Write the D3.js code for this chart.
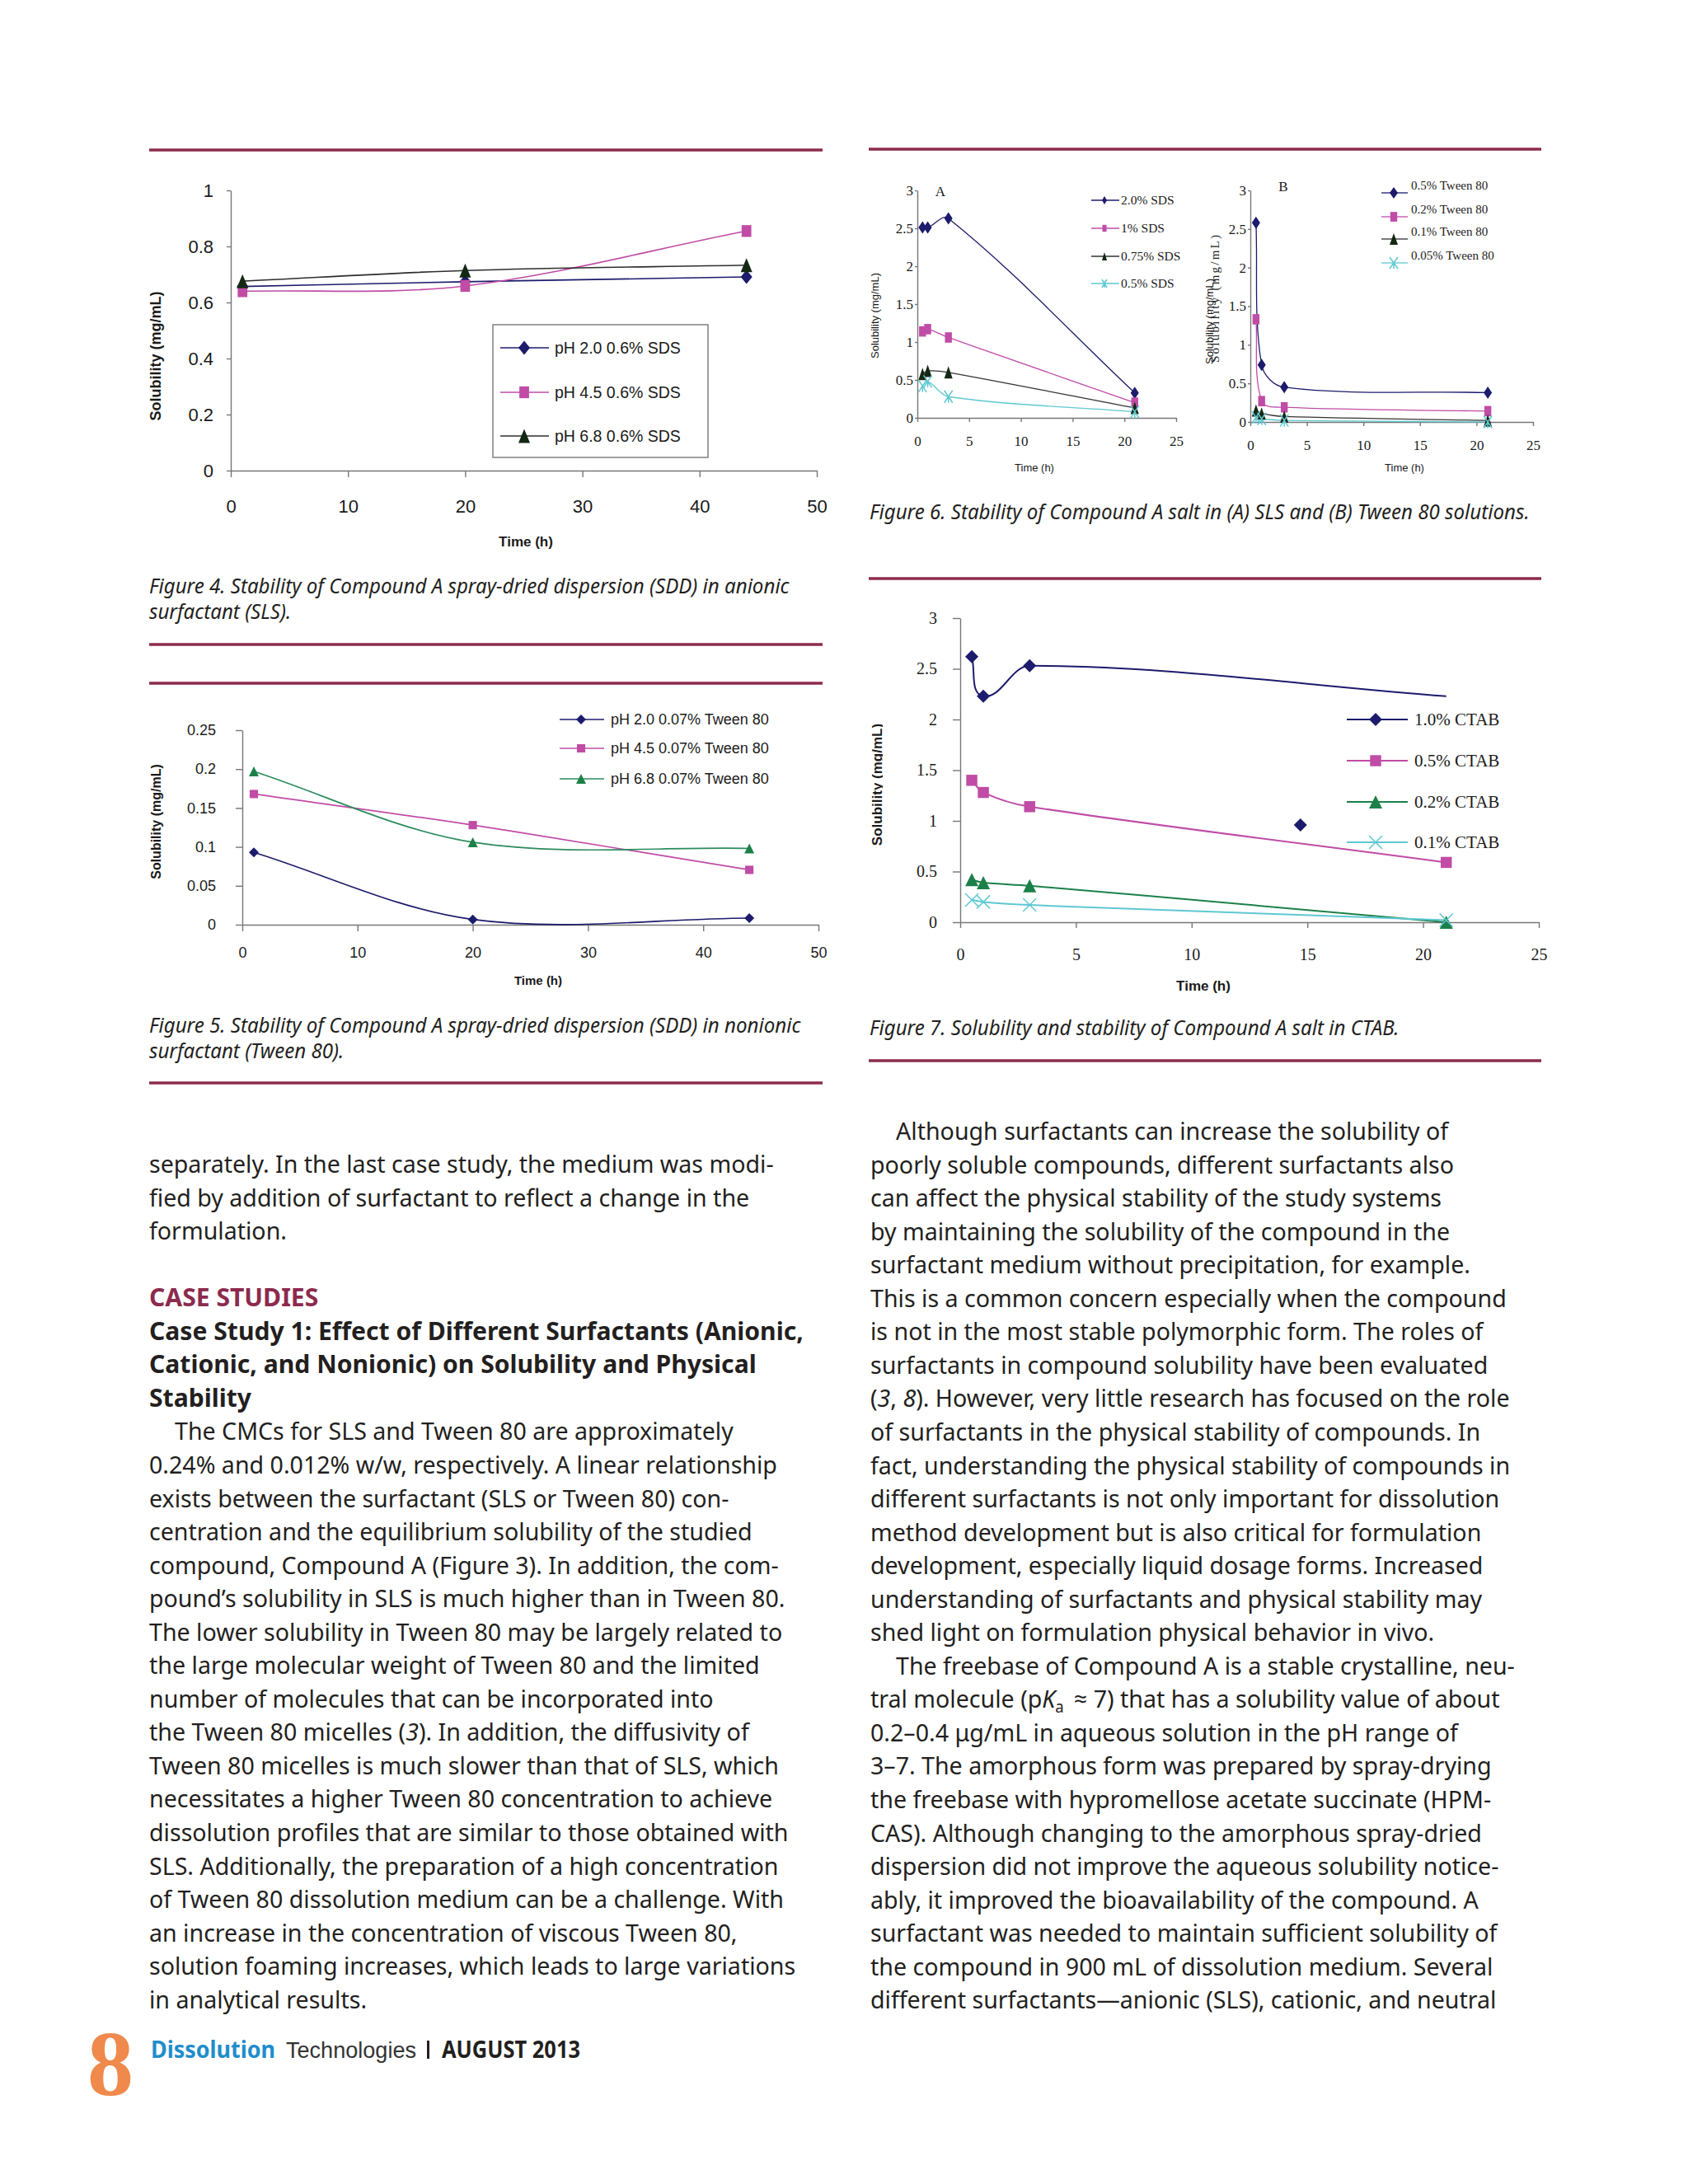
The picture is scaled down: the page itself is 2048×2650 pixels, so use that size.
<!DOCTYPE html>
<html>
<head>
<meta charset="utf-8">
<title>Stability of Compound A in surfactants</title>
<style type="text/css">
body { margin: 0; background: #fff; }
svg { display: block; }
</style>
<script src="https://cdnjs.cloudflare.com/ajax/libs/d3/7.8.5/d3.min.js"></script>
</head>
<body>
<svg width="2048" height="2650"></svg>
<script type="text/javascript">

// ---- data ----

// Figure 4: SDD in SLS
var fig4Time = [1, 20, 44];
var fig4Names = ["pH 2.0 0.6% SDS", "pH 4.5 0.6% SDS", "pH 6.8 0.6% SDS"];
var fig4Ph20 = [0.657, 0.674, 0.691];
var fig4Ph45 = [0.640, 0.659, 0.855];
var fig4Ph68 = [0.676, 0.714, 0.733];
var fig4XTicks = [0, 10, 20, 30, 40, 50];
var fig4YTicks = [0, 0.2, 0.4, 0.6, 0.8, 1];

// Figure 5: SDD in Tween 80
var fig5Time = [1, 20, 44];
var fig5Names = ["pH 2.0 0.07% Tween 80", "pH 4.5 0.07% Tween 80", "pH 6.8 0.07% Tween 80"];
var fig5Ph20 = [0.093, 0.0067, 0.0085];
var fig5Ph45 = [0.168, 0.128, 0.0705];
var fig5Ph68 = [0.197, 0.106, 0.098];
var fig5XTicks = [0, 10, 20, 30, 40, 50];
var fig5YTicks = [0, 0.05, 0.1, 0.15, 0.2, 0.25];

// Figure 6A: salt in SLS
var fig6aTime = [0.5, 1, 3, 21];
var fig6aNames = ["2.0% SDS", "1% SDS", "0.75% SDS", "0.5% SDS"];
var sds20 = [2.51, 2.51, 2.63, 0.33];
var sds10 = [1.14, 1.17, 1.06, 0.20];
var sds075 = [0.58, 0.62, 0.60, 0.13];
var sds05 = [0.42, 0.48, 0.28, 0.08];

// Figure 6B: salt in Tween 80
var fig6bTime = [0.5, 1, 3, 21];
var fig6bNames = ["0.5% Tween 80", "0.2% Tween 80", "0.1% Tween 80", "0.05% Tween 80"];
var tween05 = [2.58, 0.74, 0.45, 0.38];
var tween02 = [1.33, 0.27, 0.19, 0.14];
var tween01 = [0.15, 0.11, 0.07, 0.02];
var tween005 = [0.06, 0.04, 0.02, 0.0];
var fig6XTicks = [0, 5, 10, 15, 20, 25];
var fig6YTicks = [0, 0.5, 1, 1.5, 2, 2.5, 3];

// Figure 7: salt in CTAB
var fig7Time = [0.5, 1, 3, 21];
var fig7Names = ["1.0% CTAB", "0.5% CTAB", "0.2% CTAB", "0.1% CTAB"];
var ctab10 = [2.62, 2.23, 2.53, 2.23];
var ctab10MarkTime = [0.5, 1, 3, 14.7];   // last marker sits off the line
var ctab10MarkVal = [2.62, 2.23, 2.53, 0.96];
var ctab05 = [1.40, 1.28, 1.14, 0.59];
var ctab02 = [0.42, 0.39, 0.36, 0.0];
var ctab01 = [0.22, 0.20, 0.17, 0.02];
var fig7XTicks = [0, 5, 10, 15, 20, 25];
var fig7YTicks = [0, 0.5, 1, 1.5, 2, 2.5, 3];

var captions = {
  fig4: ["Figure 4. Stability of Compound A spray-dried dispersion (SDD) in anionic", "surfactant (SLS)."],
  fig5: ["Figure 5. Stability of Compound A spray-dried dispersion (SDD) in nonionic", "surfactant (Tween 80)."],
  fig6: ["Figure 6. Stability of Compound A salt in (A) SLS and (B) Tween 80 solutions."],
  fig7: ["Figure 7. Solubility and stability of Compound A salt in CTAB."]
};

// body text: *x* italic, _x_ subscript, leading ">" = paragraph indent
var leftText = [
  "separately. In the last case study, the medium was modi-",
  "fied by addition of surfactant to reflect a change in the",
  "formulation.",
  "",
  "#CASE STUDIES",
  "!Case Study 1: Effect of Different Surfactants (Anionic,",
  "!Cationic, and Nonionic) on Solubility and Physical",
  "!Stability",
  ">The CMCs for SLS and Tween 80 are approximately",
  "0.24% and 0.012% w/w, respectively. A linear relationship",
  "exists between the surfactant (SLS or Tween 80) con-",
  "centration and the equilibrium solubility of the studied",
  "compound, Compound A (Figure 3). In addition, the com-",
  "pound\u2019s solubility in SLS is much higher than in Tween 80.",
  "The lower solubility in Tween 80 may be largely related to",
  "the large molecular weight of Tween 80 and the limited",
  "number of molecules that can be incorporated into",
  "the Tween 80 micelles (*3*). In addition, the diffusivity of",
  "Tween 80 micelles is much slower than that of SLS, which",
  "necessitates a higher Tween 80 concentration to achieve",
  "dissolution profiles that are similar to those obtained with",
  "SLS. Additionally, the preparation of a high concentration",
  "of Tween 80 dissolution medium can be a challenge. With",
  "an increase in the concentration of viscous Tween 80,",
  "solution foaming increases, which leads to large variations",
  "in analytical results."
];
var rightText = [
  ">Although surfactants can increase the solubility of",
  "poorly soluble compounds, different surfactants also",
  "can affect the physical stability of the study systems",
  "by maintaining the solubility of the compound in the",
  "surfactant medium without precipitation, for example.",
  "This is a common concern especially when the compound",
  "is not in the most stable polymorphic form. The roles of",
  "surfactants in compound solubility have been evaluated",
  "(*3*, *8*). However, very little research has focused on the role",
  "of surfactants in the physical stability of compounds. In",
  "fact, understanding the physical stability of compounds in",
  "different surfactants is not only important for dissolution",
  "method development but is also critical for formulation",
  "development, especially liquid dosage forms. Increased",
  "understanding of surfactants and physical stability may",
  "shed light on formulation physical behavior in vivo.",
  ">The freebase of Compound A is a stable crystalline, neu-",
  "tral molecule (p*K*_a_ \u2248 7) that has a solubility value of about",
  "0.2\u20130.4 \u03bcg/mL in aqueous solution in the pH range of",
  "3\u20137. The amorphous form was prepared by spray-drying",
  "the freebase with hypromellose acetate succinate (HPM-",
  "CAS). Although changing to the amorphous spray-dried",
  "dispersion did not improve the aqueous solubility notice-",
  "ably, it improved the bioavailability of the compound. A",
  "surfactant was needed to maintain sufficient solubility of",
  "the compound in 900 mL of dissolution medium. Several",
  "different surfactants\u2014anionic (SLS), cationic, and neutral"
];

// ---- colours / fonts ----
var navy = "#1c1b6c", magenta = "#c04ca6", darkTri = "#142814", green = "#1c8049", cyan = "#5ec8d2";
var rule = "#8c2b4d";
var ARIAL = "'Liberation Sans Narrow', 'Liberation Sans', Arial, sans-serif";
var ARIALW = "'Liberation Sans', Arial, sans-serif";
var TIMES = "'Liberation Serif', 'Times New Roman', serif";
var BODY = "'Noto Sans', 'Open Sans', sans-serif";

var svg = d3.select("svg");
svg.append("rect").attr("width", 2048).attr("height", 2650).attr("fill", "#fff");

function measure(str, font, size, weight, style) {
  var t = svg.append("text").attr("font-family", font).attr("font-size", size)
    .attr("font-weight", weight || 400).attr("font-style", style || "normal").text(str);
  var w = t.node().getComputedTextLength();
  t.remove();
  return w;
}

// spreadsheet-style smoothing: tangent along neighbours, handle = segment length / 3
function curveSmooth(context) {
  var pts;
  return {
    lineStart: function() { pts = []; },
    point: function(x, y) { pts.push([+x, +y]); },
    lineEnd: function() {
      var n = pts.length;
      if (!n) return;
      context.moveTo(pts[0][0], pts[0][1]);
      for (var i = 0; i < n - 1; i++) {
        var p0 = pts[i], p1 = pts[i + 1], prev = pts[i - 1] || p0, next = pts[i + 2] || p1;
        var d = Math.hypot(p1[0] - p0[0], p1[1] - p0[1]) / 3;
        var ax = p1[0] - prev[0], ay = p1[1] - prev[1], al = Math.hypot(ax, ay) || 1;
        var bx = next[0] - p0[0], by = next[1] - p0[1], bl = Math.hypot(bx, by) || 1;
        context.bezierCurveTo(p0[0] + ax / al * d, p0[1] + ay / al * d,
          p1[0] - bx / bl * d, p1[1] - by / bl * d, p1[0], p1[1]);
      }
    },
    areaStart: function() {}, areaEnd: function() {}
  };
}

function drawMarker(g, type, cx, cy, w, h, color) {
  if (type == "diamond") {
    g.append("path").attr("d", "M" + cx + "," + (cy - h / 2) + "L" + (cx + w / 2) + "," + cy +
      "L" + cx + "," + (cy + h / 2) + "L" + (cx - w / 2) + "," + cy + "Z").attr("fill", color);
  } else if (type == "square") {
    g.append("rect").attr("x", cx - w * 0.42).attr("y", cy - h * 0.42)
      .attr("width", w * 0.84).attr("height", h * 0.84).attr("fill", color);
  } else if (type == "triangle") {
    g.append("path").attr("d", "M" + cx + "," + (cy - h / 2) + "L" + (cx + w / 2) + "," + (cy + h / 2) +
      "L" + (cx - w / 2) + "," + (cy + h / 2) + "Z").attr("fill", color);
  } else {
    var p = "M" + (cx - w / 2) + "," + (cy - h / 2) + "L" + (cx + w / 2) + "," + (cy + h / 2) +
      "M" + (cx + w / 2) + "," + (cy - h / 2) + "L" + (cx - w / 2) + "," + (cy + h / 2);
    if (type == "star") p += "M" + cx + "," + cy + "L" + cx + "," + (cy + h / 2);
    g.append("path").attr("d", p).attr("stroke", color).attr("stroke-width", 1.5).attr("fill", "none");
  }
}

function drawChart(c) {
  var g = svg.append("g");
  var x = d3.scaleLinear().domain(c.xDomain).range(c.xRange);
  var y = d3.scaleLinear().domain(c.yDomain).range(c.yRange);

  var xa = g.append("g").attr("transform", "translate(0," + c.yRange[0] + ")")
    .call(d3.axisBottom(x).tickValues(c.xTicks).tickSizeInner(c.xTick).tickSizeOuter(0)
      .tickPadding(c.xPad).tickFormat(function(d){ return String(d); }));
  var ya = g.append("g").attr("transform", "translate(" + c.xRange[0] + ",0)")
    .call(d3.axisLeft(y).tickValues(c.yTicks).tickSizeInner(c.yTick).tickSizeOuter(0)
      .tickPadding(c.yPad).tickFormat(function(d){ return String(d); }));
  [xa, ya].forEach(function(a) {
    a.select(".domain").attr("stroke", c.axisColor).attr("stroke-width", 1.4);
    a.selectAll(".tick line").attr("stroke", c.axisColor).attr("stroke-width", 1.4);
    a.selectAll(".tick text").attr("font-family", c.tickFont).attr("font-size", c.tickFontSize).attr("fill", "#1a1a1a");
  });

  var line = d3.line().x(function(d){ return x(d[0]); }).y(function(d){ return y(d[1]); })
    .curve(curveSmooth);
  c.series.forEach(function(s) {
    g.append("path").datum(d3.zip(s.t, s.v)).attr("d", line).attr("fill", "none")
      .attr("stroke", s.line || s.color).attr("stroke-width", c.lineWidth);
  });
  c.series.forEach(function(s) {
    var mt = s.mt || s.t, mv = s.mv || s.v;
    mt.forEach(function(t, i) {
      drawMarker(g, s.marker, x(t), y(mv[i]), c.mw, c.mh, s.color);
    });
  });

  var L = c.legend;
  if (L.box) {
    g.append("rect").attr("x", L.box[0]).attr("y", L.box[1]).attr("width", L.box[2]).attr("height", L.box[3])
      .attr("fill", "#fff").attr("stroke", "#777").attr("stroke-width", 1.4);
  }
  c.series.forEach(function(s, i) {
    var ly = L.rows[i];
    g.append("line").attr("x1", L.x0).attr("x2", L.x1).attr("y1", ly).attr("y2", ly)
      .attr("stroke", s.line || s.color).attr("stroke-width", c.lineWidth);
    drawMarker(g, s.marker, L.mx, ly, L.mw, L.mh, s.color);
    g.append("text").attr("x", L.tx).attr("y", ly + L.textDy).attr("font-family", L.font)
      .attr("font-size", L.size).attr("fill", "#1a1a1a").text(s.name);
  });

  c.titles.forEach(function(t) {
    var holder = g.append("g").attr("clip-path", t.clip || null);
    holder.append("text").attr("transform", "translate(" + t.x + "," + t.y + ")" + (t.rot ? " rotate(-90)" : ""))
      .attr("text-anchor", "middle").attr("dy", "0.35em").attr("font-family", t.font || ARIALW)
      .attr("font-size", t.size).attr("font-weight", t.bold ? 700 : 400).attr("fill", "#1a1a1a")
      .text(t.text);
  });
  return g;
}

// ---- rules ----
[[181, 998, 182], [181, 998, 782], [181, 998, 829], [181, 998, 1314], [1054, 1870, 181], [1054, 1870, 702], [1054, 1870, 1287]]
  .forEach(function(r) {
    svg.append("line").attr("x1", r[0]).attr("x2", r[1]).attr("y1", r[2]).attr("y2", r[2])
      .attr("stroke", rule).attr("stroke-width", 3.5);
  });

// ---- Figure 4 ----
drawChart({
  xDomain: [0, 50], xRange: [280, 991], yDomain: [0, 1], yRange: [571, 231],
  xTicks: fig4XTicks, yTicks: fig4YTicks, xTick: 8, xPad: 27, yTick: 5, yPad: 16,
  axisColor: "#777", tickFont: ARIAL, tickFontSize: 22, lineWidth: 1.6, mw: 14, mh: 17,
  series: [
    {name: fig4Names[0], t: fig4Time, v: fig4Ph20, color: navy, marker: "diamond"},
    {name: fig4Names[1], t: fig4Time, v: fig4Ph45, color: magenta, marker: "square"},
    {name: fig4Names[2], t: fig4Time, v: fig4Ph68, color: darkTri, line: "#2e2e2e", marker: "triangle"}
  ],
  legend: {box: [598, 394, 261, 161], x0: 607, x1: 666, mx: 636, tx: 673, rows: [422, 476, 529],
    textDy: 7, font: ARIAL, size: 19.5, mw: 14, mh: 17},
  titles: [
    {text: "Time (h)", x: 638, y: 657, size: 17, bold: true},
    {text: "Solubility (mg/mL)", x: 189, y: 432, size: 18, bold: true, rot: true}
  ]
});

// ---- Figure 5 ----
drawChart({
  xDomain: [0, 50], xRange: [294, 993], yDomain: [0, 0.25], yRange: [1122, 886],
  xTicks: fig5XTicks, yTicks: fig5YTicks, xTick: 8, xPad: 19, yTick: 8, yPad: 24,
  axisColor: "#777", tickFont: ARIAL, tickFontSize: 18, lineWidth: 1.7, mw: 12, mh: 12,
  series: [
    {name: fig5Names[0], t: fig5Time, v: fig5Ph20, color: navy, marker: "diamond"},
    {name: fig5Names[1], t: fig5Time, v: fig5Ph45, color: magenta, marker: "square"},
    {name: fig5Names[2], t: fig5Time, v: fig5Ph68, color: green, line: "#2b8b5c", marker: "triangle"}
  ],
  legend: {x0: 679, x1: 733, mx: 705, tx: 741, rows: [873, 908, 945], textDy: 6, font: ARIAL, size: 18, mw: 12, mh: 12},
  titles: [
    {text: "Time (h)", x: 653, y: 1190, size: 15, bold: true},
    {text: "Solubility (mg/mL)", x: 189, y: 997, size: 16, bold: true, rot: true}
  ]
});

// ---- Figure 6A ----
drawChart({
  xDomain: [0, 25], xRange: [1113, 1427], yDomain: [0, 3], yRange: [507, 231],
  xTicks: fig6XTicks, yTicks: fig6YTicks, xTick: 5, xPad: 17, yTick: 3, yPad: 2,
  axisColor: "#777", tickFont: TIMES, tickFontSize: 17, lineWidth: 1.3, mw: 10, mh: 15,
  series: [
    {name: fig6aNames[0], t: fig6aTime, v: sds20, color: navy, marker: "diamond"},
    {name: fig6aNames[1], t: fig6aTime, v: sds10, color: magenta, marker: "square"},
    {name: fig6aNames[2], t: fig6aTime, v: sds075, color: darkTri, line: "#333", marker: "triangle"},
    {name: fig6aNames[3], t: fig6aTime, v: sds05, color: cyan, marker: "star"}
  ],
  legend: {x0: 1324, x1: 1358, mx: 1340, tx: 1360, rows: [243, 277, 311, 344], textDy: 5, font: TIMES, size: 15.5, mw: 6, mh: 10},
  titles: [
    {text: "Time (h)", x: 1255, y: 567, size: 13},
    {text: "Solubility (mg/mL)", x: 1061, y: 383, size: 13, rot: true},
    {text: "A", x: 1141, y: 232, size: 17, font: TIMES}
  ]
});

// ---- Figure 6B ----
drawChart({
  xDomain: [0, 25], xRange: [1517, 1860], yDomain: [0, 3], yRange: [512, 231],
  xTicks: fig6XTicks, yTicks: fig6YTicks, xTick: 5, xPad: 17, yTick: 3, yPad: 2,
  axisColor: "#777", tickFont: TIMES, tickFontSize: 17, lineWidth: 1.3, mw: 10, mh: 15,
  series: [
    {name: fig6bNames[0], t: fig6bTime, v: tween05, color: navy, marker: "diamond"},
    {name: fig6bNames[1], t: fig6bTime, v: tween02, color: magenta, marker: "square"},
    {name: fig6bNames[2], t: fig6bTime, v: tween01, color: darkTri, line: "#333", marker: "triangle"},
    {name: fig6bNames[3], t: fig6bTime, v: tween005, color: cyan, marker: "star"}
  ],
  legend: {x0: 1676, x1: 1708, mx: 1691, tx: 1712, rows: [234, 263, 290, 319], textDy: -4, font: TIMES, size: 15, mw: 10, mh: 14},
  titles: [
    {text: "Time (h)", x: 1704, y: 567, size: 13},
    {text: "Solubility (mg/mL)", x: 1467, y: 390, size: 13, rot: true},
    {text: "B", x: 1557, y: 226, size: 17, font: TIMES}
  ]
});
// second, letter-spaced copy of the B axis title that overlaps the first
svg.append("text").attr("transform", "translate(1479,440) rotate(-90)").attr("font-family", TIMES)
  .attr("font-size", 15).attr("fill", "#1a1a1a").attr("textLength", 155).attr("lengthAdjust", "spacing")
  .text("Solubility (mg/mL)");

// ---- Figure 7 ----
svg.append("clipPath").attr("id", "clip7").append("rect").attr("x", 1040).attr("y", 700).attr("width", 31).attr("height", 500);
drawChart({
  xDomain: [0, 25], xRange: [1165, 1867], yDomain: [0, 3], yRange: [1119, 750],
  xTicks: fig7XTicks, yTicks: fig7YTicks, xTick: 7, xPad: 25, yTick: 9, yPad: 19,
  axisColor: "#777", tickFont: TIMES, tickFontSize: 20, lineWidth: 2, mw: 16, mh: 16,
  series: [
    {name: fig7Names[0], t: fig7Time, v: ctab10, mt: ctab10MarkTime, mv: ctab10MarkVal, color: navy, marker: "diamond"},
    {name: fig7Names[1], t: fig7Time, v: ctab05, color: magenta, marker: "square"},
    {name: fig7Names[2], t: fig7Time, v: ctab02, color: green, marker: "triangle"},
    {name: fig7Names[3], t: fig7Time, v: ctab01, color: cyan, marker: "x"}
  ],
  legend: {x0: 1634, x1: 1708, mx: 1669, tx: 1716, rows: [873, 923, 973, 1022], textDy: 7, font: TIMES, size: 21, mw: 16, mh: 16},
  titles: [
    {text: "Time (h)", x: 1460, y: 1196, size: 17, bold: true},
    {text: "Solubility (mg/mL)", x: 1064, y: 952, size: 17, bold: true, rot: true, clip: "url(#clip7)"}
  ]
});

// ---- captions ----
var capScale = 801 / measure(captions.fig6[0], BODY, 25, 400, "italic");
function caption(lines, x, y0) {
  lines.forEach(function(s, i) {
    svg.append("text").attr("transform", "translate(" + x + "," + (y0 + i * 31) + ") scale(" + capScale + ",1)")
      .attr("font-family", BODY).attr("font-size", 25).attr("font-style", "italic").attr("fill", "#231f20").text(s);
  });
}
caption(captions.fig4, 181, 720);
caption(captions.fig5, 181, 1253);
caption(captions.fig6, 1055, 630);
caption(captions.fig7, 1055, 1256);

// ---- body text ----
var FS = 29.5, LH = 40.55;
var regScale = 758 / measure(leftText[0], BODY, FS, 400);
var boldScale = 794 / measure(leftText[5].slice(1), BODY, FS, 700);

function addSegs(t, str) {
  str.split(/(\*[^*]+\*|_[^_]+_)/).filter(function(s){ return s; }).forEach(function(p) {
    if (p[0] == "*") t.append("tspan").attr("font-style", "italic").text(p.slice(1, -1));
    else if (p[0] == "_") {
      t.append("tspan").attr("dy", 6).attr("font-size", FS * 0.65).text(p.slice(1, -1));
      t.append("tspan").attr("dy", -6).text("\u2009");
    } else t.append("tspan").text(p);
  });
}
function column(lines, x, y0) {
  lines.forEach(function(s, i) {
    if (!s) return;
    var y = y0 + i * LH, xx = x, sc = regScale, w = 400, col = "#231f20";
    if (s[0] == ">") { s = s.slice(1); xx = x + 31; }
    else if (s[0] == "!") { s = s.slice(1); sc = boldScale; w = 700; }
    else if (s[0] == "#") { s = s.slice(1); sc = boldScale; w = 700; col = "#8c2a4e"; }
    var t = svg.append("text").attr("transform", "translate(" + xx + "," + y + ") scale(" + sc + ",1)")
      .attr("font-family", BODY).attr("font-size", FS).attr("font-weight", w).attr("fill", col);
    addSegs(t, s);
  });
}
column(leftText, 181, 1423);
column(rightText, 1056, 1383);

// ---- footer ----
svg.append("text").attr("x", 106).attr("y", 2542).attr("font-family", TIMES).attr("font-weight", 700)
  .attr("font-size", 112).attr("fill", "#ef8a4c").text("8");
svg.append("text").attr("x", 183).attr("y", 2497).attr("font-family", BODY).attr("font-weight", 700)
  .attr("font-size", 28).attr("fill", "#1f8dcb").attr("textLength", 151).attr("lengthAdjust", "spacingAndGlyphs").text("Dissolution");
svg.append("text").attr("x", 347).attr("y", 2497).attr("font-family", ARIAL)
  .attr("font-size", 28).attr("fill", "#333").attr("textLength", 158).attr("lengthAdjust", "spacingAndGlyphs").text("Technologies");
svg.append("rect").attr("x", 518).attr("y", 2476).attr("width", 3).attr("height", 22).attr("fill", "#231f20");
svg.append("text").attr("x", 536).attr("y", 2497).attr("font-family", BODY).attr("font-weight", 700)
  .attr("font-size", 28).attr("fill", "#231f20").attr("textLength", 168).attr("lengthAdjust", "spacingAndGlyphs").text("AUGUST 2013");

</script>
</body>
</html>
